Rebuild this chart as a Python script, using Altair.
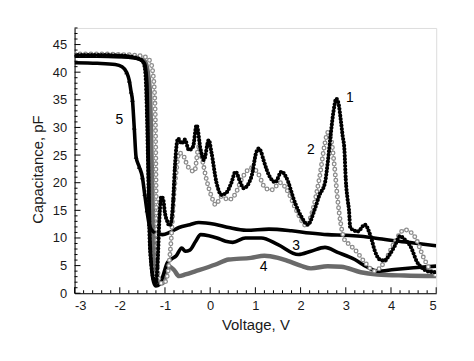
import altair as alt
import pandas as pd

# ---- data ----
c1_v = [-3.0, -2.5, -2.0, -1.75, -1.6, -1.5, -1.45, -1.42, -1.4, -1.38, -1.36, -1.34, -1.3, -1.25, -1.2, -1.16, -1.12, -1.08, -1.04, -1.0,
        -0.95, -0.9, -0.86, -0.82, -0.78, -0.74, -0.71, -0.67, -0.63, -0.56, -0.47, -0.38, -0.3, -0.21, -0.14, -0.03, 0.03, 0.14, 0.25, 0.36,
        0.47, 0.56, 0.67, 0.74, 0.91, 1.02, 1.07, 1.13, 1.18, 1.33, 1.44, 1.58, 1.68, 1.88, 2.02, 2.16, 2.31, 2.42, 2.54, 2.6,
        2.67, 2.73, 2.79, 2.84, 2.89, 2.93, 2.97, 3.0, 3.04, 3.07, 3.1, 3.27, 3.42, 3.55, 3.65, 3.75, 3.85, 3.97, 4.08, 4.2,
        4.32, 4.43, 4.58, 4.7, 4.8, 5.0]
c1_c = [43.1, 43.1, 43.0, 42.8, 42.5, 42.0, 41.0, 38.0, 33.0, 26.0, 18.0, 10.0, 5.0, 2.5, 1.8, 6.0, 14.0, 17.5, 17.0, 14.5,
        13.0, 12.2, 13.0, 16.5, 22.9, 27.0, 28.0, 27.5, 27.1, 27.8, 25.9, 26.5, 30.4, 25.9, 24.1, 27.7, 25.4, 20.0, 17.8, 18.2,
        20.0, 22.0, 20.0, 19.0, 21.0, 25.5, 26.2, 25.5, 24.1, 20.9, 20.1, 22.0, 21.0, 16.3, 13.8, 12.4, 15.1, 17.8, 20.0, 23.6,
        29.0, 33.0, 35.2, 34.3, 31.3, 28.5, 25.9, 20.5, 17.0, 15.1, 11.8, 11.2, 12.4, 10.3, 7.5, 6.1, 5.9, 7.0, 8.5, 10.3,
        9.6, 8.5, 5.6, 4.5, 4.0, 3.8]

c2_v = [-3.0, -2.5, -2.0, -1.7, -1.5, -1.4, -1.32, -1.27, -1.23, -1.21, -1.2, -1.19, -1.17, -1.14, -1.08, -1.02, -0.97, -0.93, -0.89, -0.86,
        -0.83, -0.8, -0.75, -0.69, -0.6, -0.5, -0.43, -0.35, -0.25, -0.19, -0.08, 0.03, 0.12, 0.25, 0.41, 0.56, 0.69, 0.8, 0.93, 1.07,
        1.22, 1.36, 1.55, 1.73, 1.9, 2.05, 2.12, 2.27, 2.42, 2.54, 2.6, 2.67, 2.75, 2.82, 2.89, 2.97, 3.08, 3.2, 3.42, 3.64,
        3.85, 4.08, 4.3, 4.52, 4.74, 4.96, 5.0]
c2_c = [43.3, 43.3, 43.2, 43.1, 42.9, 42.6, 41.8, 40.0, 36.0, 30.0, 22.0, 14.0, 6.0, 2.8, 1.8, 1.8, 2.5, 4.0, 7.0, 10.0,
        14.0, 18.0, 22.0, 25.4, 25.0, 23.0, 22.3, 22.0, 26.5, 24.7, 20.5, 17.5, 16.0, 17.5, 16.9, 18.0, 20.5, 22.0, 22.7, 21.5,
        19.0, 18.7, 20.0, 18.2, 15.1, 12.8, 12.2, 15.1, 21.0, 27.2, 29.1, 28.0, 22.9, 16.9, 12.5, 9.7, 8.8, 7.9, 5.6, 4.0,
        5.6, 9.2, 11.5, 10.3, 6.1, 3.4, 3.3]

c3_v = [-3.0, -2.5, -2.0, -1.7, -1.55, -1.45, -1.4, -1.37, -1.34, -1.3, -1.25, -1.2, -1.12, -1.05, -0.95, -0.85, -0.75, -0.63, -0.55, -0.45,
        -0.32, -0.21, -0.03, 0.15, 0.34, 0.5, 0.78, 1.13, 1.5, 1.95, 2.23, 2.54, 2.82, 3.2, 3.48, 3.7, 4.07, 4.5, 5.0]
c3_c = [42.9, 42.9, 42.8, 42.6, 42.3, 41.5, 38.0, 25.0, 12.0, 5.0, 2.0, 1.3, 1.6, 3.0, 5.5, 6.2, 6.8, 8.2, 7.6, 7.8,
        9.4, 10.6, 10.4, 10.0, 9.4, 9.2, 10.0, 10.0, 8.8, 7.0, 7.6, 8.3, 7.4, 6.1, 4.7, 4.0, 4.3, 4.6, 4.9]

c4_v = [-3.0, -2.5, -2.0, -1.7, -1.55, -1.45, -1.38, -1.33, -1.3, -1.27, -1.23, -1.18, -1.12, -1.05, -0.98, -0.92, -0.8, -0.69, -0.55, -0.32,
        0.12, 0.41, 0.9, 1.2, 1.5, 1.73, 2.0, 2.23, 2.6, 2.9, 3.33, 3.7, 4.3, 5.0]
c4_c = [43.0, 43.0, 42.9, 42.7, 42.4, 42.0, 40.0, 36.0, 26.0, 15.0, 7.0, 3.5, 2.0, 1.8, 3.5, 4.9, 4.2, 3.1, 3.4, 4.0,
        5.2, 6.1, 6.4, 6.8, 6.4, 5.8, 5.0, 4.5, 4.9, 4.8, 3.8, 3.4, 3.2, 3.1]

c5_v = [-3.0, -2.5, -2.1, -1.95, -1.85, -1.79, -1.75, -1.72, -1.68, -1.64, -1.57, -1.5, -1.45, -1.4, -1.35, -1.3, -1.2, -1.05, -0.9, -0.69,
        -0.45, -0.25, 0.1, 0.41, 0.8, 1.3, 1.8, 2.2, 2.6, 3.0, 3.33, 3.8, 4.07, 4.5, 5.0]
c5_c = [41.7, 41.6, 41.4, 41.0, 40.0, 38.5, 36.5, 35.0, 30.0, 24.7, 22.9, 21.0, 18.0, 15.0, 12.5, 11.5, 10.9, 10.6, 11.0, 11.9,
        12.4, 12.8, 12.5, 11.9, 11.4, 11.6, 11.3, 10.9, 10.6, 10.5, 10.3, 9.8, 9.5, 9.1, 8.6]

label_text = ["1", "2", "3", "4", "5"]
label_v = [3.09, 2.23, 1.9, 1.18, -2.01]
label_c = [35.4, 25.9, 8.6, 4.7, 31.3]

x_major = [-3, -2, -1, 0, 1, 2, 3, 4, 5]
x_minor = [round(-3 + 0.2 * i, 1) for i in range(41) if i % 5 != 0]
y_major = [0, 5, 10, 15, 20, 25, 30, 35, 40, 45]
y_minor = [i for i in range(49) if i % 5 != 0]

W, H = 364, 267
FONT = "Liberation Sans"
TXT = "#1a1a1a"

xs = alt.Scale(domain=[-3, 5], nice=False, zero=False)
ys = alt.Scale(domain=[0, 48], nice=False, zero=True)

x_axis = alt.Axis(values=x_major, labelExpr="toString(datum.value)", ticks=False, grid=False,
                  domainColor="black", domainWidth=1, labelFontSize=13, labelColor=TXT,
                  labelPadding=6, labelFont=FONT, title="Voltage, V", titleFont=FONT,
                  titleFontSize=15, titleFontWeight="normal", titleColor=TXT,
                  titleY=37, titleBaseline="alphabetic")
y_axis = alt.Axis(values=y_major, labelExpr="toString(datum.value)", ticks=False, grid=False,
                  domainColor="black", domainWidth=1, labelFontSize=13, labelColor=TXT,
                  labelPadding=8, labelFont=FONT, title="Capacitance, pF", titleFont=FONT,
                  titleFontSize=15, titleFontWeight="normal", titleColor=TXT,
                  titleX=-32, titleY=142, titleBaseline="alphabetic")

X = alt.X("V:Q", scale=xs, axis=x_axis)
Y = alt.Y("C:Q", scale=ys, axis=y_axis)


def df(v, c):
    return pd.DataFrame({"V": v, "C": c})


d1, d2, d3, d4, d5 = df(c1_v, c1_c), df(c2_v, c2_c), df(c3_v, c3_c), df(c4_v, c4_c), df(c5_v, c5_c)


def line(d, **kw):
    return alt.Chart(d).mark_line(interpolate="monotone", clip=True, **kw).encode(x=X, y=Y)


l4 = line(d4, color="#6a6a6a", strokeWidth=4.5)
l3 = line(d3, color="black", strokeWidth=3.6)
l5 = line(d5, color="black", strokeWidth=3.6)
tri5 = alt.Chart(d5).transform_filter("datum.V >= -1.9 && datum.V <= -1.3").mark_point(
    shape="triangle-up", filled=True, size=22, color="black", opacity=1).encode(x=X, y=Y)
l2a = line(d2, color="#9a9a9a", strokeWidth=1)
l2b = line(d2, color="#8c8c8c", strokeWidth=5, strokeDash=[0, 5.5], strokeCap="round")
l2c = line(d2, color="white", strokeWidth=2.4, strokeDash=[0, 5.5], strokeCap="round")
l1 = line(d1, color="black", strokeWidth=4.2, strokeDash=[0, 3.4], strokeCap="round")

labels = alt.Chart(pd.DataFrame({"V": label_v, "C": label_c, "t": label_text})).mark_text(
    font=FONT, fontSize=14, color="black").encode(x=X, y=Y, text="t:N")

xt_major = alt.Chart(pd.DataFrame({"V": x_major})).mark_rule(color="black", strokeWidth=1).encode(
    x=X, y=alt.value(H), y2=alt.value(H - 6))
xt_minor = alt.Chart(pd.DataFrame({"V": x_minor})).mark_rule(color="black", strokeWidth=1).encode(
    x=X, y=alt.value(H), y2=alt.value(H - 3))
yt_major = alt.Chart(pd.DataFrame({"C": y_major})).mark_rule(color="black", strokeWidth=1).encode(
    y=Y, x=alt.value(0), x2=alt.value(6))
yt_minor = alt.Chart(pd.DataFrame({"C": y_minor})).mark_rule(color="black", strokeWidth=1).encode(
    y=Y, x=alt.value(0), x2=alt.value(3))

chart = alt.layer(
    l4, l3, l5, tri5, l2a, l2b, l2c, l1, labels, xt_major, xt_minor, yt_major, yt_minor
).properties(
    width=W, height=H,
    autosize=alt.AutoSizeParams(type="none"),
    padding={"left": 67, "top": 19, "right": 30, "bottom": 50},
).configure_view(stroke=None).configure(background="white")

chart.save("out.html", embed_options={"renderer": "svg", "actions": False})
